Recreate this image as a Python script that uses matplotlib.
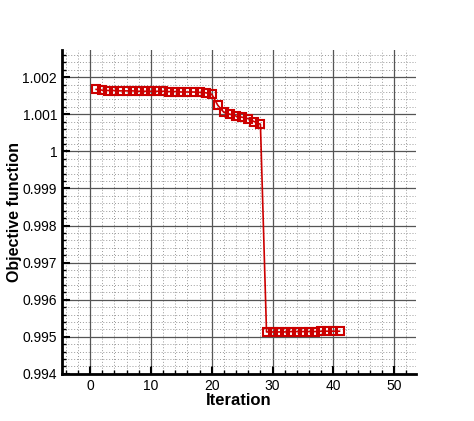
import matplotlib as mpl
mpl.use('Agg')
import matplotlib.pyplot as plt
from matplotlib.ticker import MultipleLocator, FuncFormatter
import numpy as np

mpl.rcParams['font.family'] = ['Liberation Sans', 'DejaVu Sans']

iterations = list(range(1, 42))
objective = [
    1.00167, 1.00165, 1.00164, 1.00164, 1.00163, 1.00163, 1.00163, 1.00162,
    1.00162, 1.00162, 1.00162, 1.00162, 1.00161, 1.00161, 1.00160, 1.00160,
    1.00160, 1.00159, 1.00158, 1.00154,
    1.00124, 1.00105, 1.00100, 1.00095, 1.00092, 1.00088, 1.00080, 1.00073,
    0.99513, 0.99513, 0.99513, 0.99513, 0.99514, 0.99514, 0.99514, 0.99514,
    0.99514, 0.99515, 0.99515, 0.99515, 0.99515,
]

fig = plt.figure(figsize=(4.74, 4.21), dpi=100)
ax = fig.add_axes([0.131, 0.112, 0.747, 0.769])

ax.plot(iterations, objective, color='#cc0000', lw=1.2, marker='s',
        markersize=6, markerfacecolor='none', markeredgecolor='#cc0000',
        markeredgewidth=1.5, zorder=3)

ax.set_xlim(-4.6, 53.6)
ax.set_ylim(0.994, 1.00273)

ax.xaxis.set_major_locator(MultipleLocator(10))
ax.xaxis.set_minor_locator(MultipleLocator(2))
ax.yaxis.set_major_locator(MultipleLocator(0.001))
ax.yaxis.set_minor_locator(MultipleLocator(0.0002))
ax.yaxis.set_major_formatter(FuncFormatter(lambda v, p: '%g' % round(v, 6)))

ax.grid(which='major', color='#555555', lw=0.9, ls='-')
ax.grid(which='minor', color='#999999', lw=0.7, ls=(0, (1, 2)))
ax.set_axisbelow(True)

for s in ['top', 'right']:
    ax.spines[s].set_visible(False)
for s in ['left', 'bottom']:
    ax.spines[s].set_linewidth(2)

ax.tick_params(which='major', direction='in', length=6, width=1.5, labelsize=10)
ax.tick_params(which='minor', direction='in', length=3, width=1)

ax.set_xlabel('Iteration', fontsize=12, fontweight='bold', labelpad=0.5)
ax.set_ylabel('Objective function', fontsize=11.5, fontweight='bold', labelpad=0)

fig.savefig('out.png', dpi=100)
